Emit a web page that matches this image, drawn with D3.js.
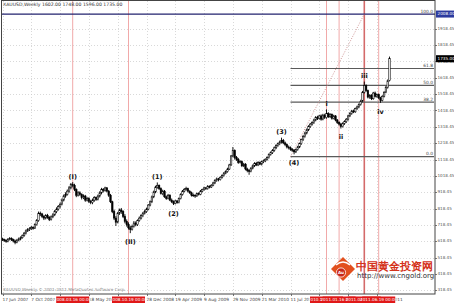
<!DOCTYPE html>
<html>
<head>
<meta charset="utf-8">
<script src="https://cdn.jsdelivr.net/npm/d3@7"></script>
<style>
  html, body { margin: 0; padding: 0; background: #fff; }
  svg { display: block; }
  text { font-family: "DejaVu Sans", sans-serif; }
</style>
</head>
<body>
<script>
var width = 454, height = 304;
var plot = {left: 1, top: 1, right: 435, bottom: 294};

// weekly bars, first and last week (Sunday dates)
var firstWeek = "2007-06-17", lastWeek = "2011-07-31";

var opens = [632,628,622,618,630,635,628,620,612,625,
  632,640,652,668,682,690,695,702,698,720,
  745,790,785,770,760,775,765,752,768,780,
  800,815,830,845,870,895,905,925,945,965,
  960,935,900,915,905,885,895,870,880,862,
  855,870,885,875,895,915,935,930,945,925,
  900,860,800,760,735,790,810,800,770,740,
  720,700,690,710,730,720,745,760,775,790,
  800,815,840,860,890,920,950,960,940,910,
  925,890,880,900,870,860,850,865,855,880,
  905,925,935,940,925,915,900,900,895,910,
  905,925,935,945,940,955,950,960,975,990,
  1000,995,1010,1020,1035,1045,1060,1085,1140,1175,
  1130,1120,1100,1105,1080,1090,1060,1050,1045,1065,
  1080,1095,1085,1100,1090,1105,1110,1120,1130,1150,
  1160,1175,1190,1205,1215,1225,1235,1220,1210,1195,
  1190,1180,1175,1165,1180,1195,1215,1240,1260,1280,
  1300,1320,1335,1345,1360,1375,1370,1385,1365,1390,
  1375,1400,1380,1395,1370,1385,1360,1345,1335,1320,
  1340,1350,1365,1385,1400,1415,1410,1430,1440,1455,
  1475,1530,1570,1540,1500,1510,1490,1525,1505,1515,
  1495,1480,1505,1530,1560,1602];

var highs = [640,634,630,638,644,642,634,628,633,641,
  648,660,675,690,699,704,712,710,728,754,
  800,800,792,778,784,786,772,776,790,810,
  826,840,855,880,904,918,935,956,975,980,
  970,942,925,924,912,905,902,890,888,872,
  880,894,892,904,924,945,944,952,950,932,
  908,866,812,772,798,818,822,808,784,752,
  734,712,720,742,740,752,770,784,798,812,
  824,846,868,898,928,958,978,966,948,934,
  932,898,908,906,880,868,872,870,886,912,
  932,944,952,946,930,922,910,906,916,918,
  932,940,952,950,962,960,968,982,998,1008,
  1006,1016,1028,1042,1052,1068,1092,1146,1195,1180,
  1140,1128,1115,1112,1098,1096,1068,1060,1072,1088,
  1102,1104,1108,1106,1112,1118,1126,1138,1156,1168,
  1182,1198,1212,1222,1234,1252,1244,1228,1216,1204,
  1198,1188,1182,1186,1202,1222,1246,1268,1288,1308,
  1328,1342,1352,1368,1384,1386,1392,1394,1398,1398,
  1425,1408,1402,1400,1392,1390,1366,1352,1342,1346,
  1358,1372,1392,1408,1422,1424,1436,1448,1462,1484,
  1538,1595,1578,1546,1518,1518,1532,1534,1522,1522,
  1502,1512,1536,1568,1608,1748];

var lows = [620,615,609,612,623,620,611,600,606,618,
  624,634,646,660,675,681,687,689,694,714,
  738,772,760,748,752,756,742,745,760,772,
  790,806,820,838,862,885,898,915,936,948,
  925,888,892,896,874,876,860,862,852,845,
  845,860,866,868,886,905,918,922,918,890,
  852,790,748,712,728,780,786,760,728,708,
  690,668,684,702,710,712,738,752,766,782,
  792,808,832,852,882,912,940,932,904,900,
  884,872,874,864,852,840,844,848,850,874,
  898,918,928,918,908,892,890,884,890,898,
  900,918,928,932,934,942,944,955,968,982,
  985,990,1002,1014,1028,1038,1054,1080,1132,1118,
  1110,1092,1094,1072,1072,1052,1040,1025,1040,1058,
  1072,1078,1078,1084,1082,1096,1102,1112,1124,1142,
  1152,1166,1182,1196,1206,1216,1212,1200,1186,1180,
  1172,1166,1150,1158,1172,1188,1208,1232,1252,1272,
  1292,1312,1326,1336,1352,1360,1362,1356,1358,1366,
  1368,1372,1372,1362,1364,1352,1336,1326,1308,1314,
  1330,1342,1356,1378,1392,1402,1404,1422,1432,1448,
  1468,1522,1532,1492,1490,1482,1484,1498,1496,1488,
  1465,1474,1498,1524,1552,1596];

var closes = [628,622,618,630,635,628,620,612,625,632,
  640,652,668,682,690,695,702,698,720,745,
  790,785,770,760,775,765,752,768,780,800,
  815,830,845,870,895,905,925,945,965,960,
  935,900,915,905,885,895,870,880,862,855,
  870,885,875,895,915,935,930,945,925,900,
  860,800,760,735,790,810,800,770,740,720,
  700,690,710,730,720,745,760,775,790,800,
  815,840,860,890,920,950,960,940,910,925,
  890,880,900,870,860,850,865,855,880,905,
  925,935,940,925,915,900,900,895,910,905,
  925,935,945,940,955,950,960,975,990,1000,
  995,1010,1020,1035,1045,1060,1085,1140,1175,1130,
  1120,1100,1105,1080,1090,1060,1050,1045,1065,1080,
  1095,1085,1100,1090,1105,1110,1120,1130,1150,1160,
  1175,1190,1205,1215,1225,1235,1220,1210,1195,1190,
  1180,1175,1165,1180,1195,1215,1240,1260,1280,1300,
  1320,1335,1345,1360,1375,1370,1385,1365,1390,1375,
  1400,1380,1395,1370,1385,1360,1345,1335,1320,1340,
  1350,1365,1385,1400,1415,1410,1430,1440,1455,1475,
  1530,1570,1540,1500,1510,1490,1525,1505,1515,1495,
  1480,1505,1530,1560,1600,1735];

var priceTicks = [318.45,418.45,518.45,618.45,718.45,818.45,918.45,1018.45,1118.45,
  1218.45,1318.45,1418.45,1518.45,1618.45,1718.45,1818.45,1918.45];
var dateTicks = ["2007-06-17","2007-10-07","2008-01-27","2008-05-18","2008-09-07",
  "2008-12-28","2009-04-19","2009-08-09","2009-11-29","2010-03-21","2010-07-11",
  "2010-10-31","2011-02-20","2011-06-12"];

// vertical lines on wave points
var lineDates = ["2008-03-16","2008-10-19","2010-11-28","2011-01-16","2011-04-24","2011-06-19"];

// fibonacci levels
var fibStart = "2010-07-11", fibLow = 1136, fibHigh = 2008;
var fibLevels = [0, 38.2, 50, 61.8];
var trendEnd = "2011-04-24";

// wave count
var waveText = ["(I)","(II)","(1)","(2)","(3)","(4)","i","ii","iii","iv"];
var waveBar  = [39, 71, 86, 95, 155, 162, 180, 188, 201, 210];
var waveSide = ["up","down","up","down","up","down","up","down","up","down"];

var parse = d3.utcParse("%Y-%m-%d");
var weeks = d3.utcWeek.range(parse(firstWeek), d3.utcDay.offset(parse(lastWeek), 1));
var bars = weeks.map(function(d, i) {
  return {date: d, o: opens[i], h: highs[i], l: lows[i], c: closes[i]};
});

var x = d3.scaleUtc()
  .domain([parse(firstWeek), parse(lastWeek)])
  .range([2.5, 389.5]);
var y = d3.scaleLinear()
  .domain([318.45, 1918.45])
  .range([290.3, 28.7]);

var svg = d3.select("body").append("svg")
  .attr("width", width)
  .attr("height", height);

svg.append("rect").attr("width", width).attr("height", height).attr("fill", "#fff");

svg.append("clipPath").attr("id", "clip")
  .append("rect")
  .attr("x", plot.left).attr("y", plot.top)
  .attr("width", plot.right - plot.left).attr("height", plot.bottom - plot.top);

var g = svg.append("g").attr("clip-path", "url(#clip)");

// grid
g.selectAll("line.hgrid").data(priceTicks).enter().append("line")
  .attr("x1", plot.left).attr("x2", plot.right)
  .attr("y1", function(d) { return Math.round(y(d)) + 0.5; })
  .attr("y2", function(d) { return Math.round(y(d)) + 0.5; })
  .attr("stroke", "#c8c8c8").attr("stroke-width", 0.7)
  .attr("stroke-dasharray", "1,2");
g.selectAll("line.vgrid").data(dateTicks).enter().append("line")
  .attr("x1", function(d) { return Math.round(x(parse(d))) + 0.5; })
  .attr("x2", function(d) { return Math.round(x(parse(d))) + 0.5; })
  .attr("y1", plot.top).attr("y2", plot.bottom)
  .attr("stroke", "#c8c8c8").attr("stroke-width", 0.7)
  .attr("stroke-dasharray", "1,2");

// vertical marker lines
g.selectAll("line.vmark").data(lineDates).enter().append("line")
  .attr("x1", function(d) { return x(parse(d)); })
  .attr("x2", function(d) { return x(parse(d)); })
  .attr("y1", plot.top).attr("y2", plot.bottom)
  .attr("stroke", function(d, i) { return i == 4 ? "#d46a6a" : "#ef9f9f"; })
  .attr("stroke-width", function(d, i) { return i == 4 ? 1.6 : 0.9; });

// 100% line across whole chart
g.append("line")
  .attr("x1", plot.left).attr("x2", plot.right)
  .attr("y1", y(fibHigh)).attr("y2", y(fibHigh))
  .attr("stroke", "#22226e").attr("stroke-width", 1.2);

// fib levels
var fibX = x(parse(fibStart));
fibLevels.forEach(function(lv) {
  var p = fibLow + (fibHigh - fibLow) * lv / 100;
  g.append("line")
    .attr("x1", fibX).attr("x2", plot.right - 1)
    .attr("y1", y(p)).attr("y2", y(p))
    .attr("stroke", "#5a5a5a").attr("stroke-width", 1.1);
});
fibLevels.concat([100]).forEach(function(lv) {
  var p = fibLow + (fibHigh - fibLow) * lv / 100;
  g.append("text")
    .attr("x", plot.right - 2).attr("y", y(p) - 1.5)
    .attr("text-anchor", "end")
    .attr("font-size", 4.4).attr("fill", "#444")
    .text(lv.toFixed(1));
});

// dotted trend line
g.append("line")
  .attr("x1", fibX).attr("y1", y(fibLow))
  .attr("x2", x(parse(trendEnd))).attr("y2", y(fibHigh))
  .attr("stroke", "#c98a8a").attr("stroke-width", 0.9)
  .attr("stroke-dasharray", "1,1.5");

// candles
g.selectAll("line.wick").data(bars).enter().append("line")
  .attr("x1", function(d) { return x(d.date); })
  .attr("x2", function(d) { return x(d.date); })
  .attr("y1", function(d) { return y(d.h); })
  .attr("y2", function(d) { return y(d.l); })
  .attr("stroke", "#000").attr("stroke-width", 0.9);
g.selectAll("rect.body").data(bars).enter().append("rect")
  .attr("x", function(d) { return x(d.date) - 0.75; })
  .attr("width", 1.5)
  .attr("y", function(d) { return y(Math.max(d.o, d.c)); })
  .attr("height", function(d) { return Math.max(0.6, Math.abs(y(d.o) - y(d.c))); })
  .attr("fill", function(d) { return d.c >= d.o ? "#eee" : "#000"; })
  .attr("stroke", "#000").attr("stroke-width", 0.55);

// wave labels
g.selectAll("text.wave").data(waveText).enter().append("text")
  .attr("x", function(d, i) { return x(weeks[waveBar[i]]); })
  .attr("y", function(d, i) {
    var b = bars[waveBar[i]];
    return waveSide[i] == "up" ? y(b.h) - 5 : y(b.l) + 9;
  })
  .attr("text-anchor", "middle").attr("dominant-baseline", "middle")
  .attr("font-size", 6.5).attr("font-weight", "bold").attr("fill", "#111")
  .text(function(d) { return d; });

// title and copyright
var last = bars[bars.length - 1];
g.append("text").attr("x", 3).attr("y", 6)
  .attr("font-size", 4.6).attr("fill", "#333")
  .text("XAUUSD,Weekly  " + [last.o, last.h, last.l, last.c].map(function(v) { return v.toFixed(2); }).join(" "));
g.append("text").attr("x", 3).attr("y", 291)
  .attr("font-size", 4.2).attr("fill", "#888")
  .text("XAUUSD,Weekly  \u00a9 2001-2011 MetaQuotes Software Corp.");

// frame
svg.append("rect")
  .attr("x", plot.left + 0.5).attr("y", plot.top - 0.5)
  .attr("width", plot.right - plot.left - 0.5).attr("height", plot.bottom - plot.top + 0.5)
  .attr("fill", "none").attr("stroke", "#444").attr("stroke-width", 1);

// price axis
var ax = svg.append("g");
ax.selectAll("line").data(priceTicks).enter().append("line")
  .attr("x1", plot.right).attr("x2", plot.right + 2)
  .attr("y1", function(d) { return Math.round(y(d)) + 0.5; })
  .attr("y2", function(d) { return Math.round(y(d)) + 0.5; })
  .attr("stroke", "#555").attr("stroke-width", 0.8);
ax.selectAll("text").data(priceTicks).enter().append("text")
  .attr("x", plot.right + 2.5).attr("y", function(d) { return y(d); })
  .attr("dominant-baseline", "middle")
  .attr("font-size", 4.1).attr("fill", "#555")
  .text(function(d) { return d.toFixed(2); });

// price boxes
function priceBox(p, fill) {
  ax.append("rect")
    .attr("x", plot.right + 1).attr("y", y(p) - 3.5)
    .attr("width", width - plot.right - 1).attr("height", 7)
    .attr("fill", fill);
  ax.append("text")
    .attr("x", plot.right + 2.5).attr("y", y(p))
    .attr("dominant-baseline", "middle")
    .attr("font-size", 4.2).attr("fill", "#fff")
    .text(p.toFixed(2));
}
priceBox(fibHigh, "#2c3a9e");
priceBox(last.c, "#000");

// time axis
var tx = svg.append("g");
tx.selectAll("line").data(dateTicks).enter().append("line")
  .attr("x1", function(d) { return Math.round(x(parse(d))) + 0.5; })
  .attr("x2", function(d) { return Math.round(x(parse(d))) + 0.5; })
  .attr("y1", plot.bottom).attr("y2", plot.bottom + 2)
  .attr("stroke", "#555").attr("stroke-width", 0.8);
tx.selectAll("text").data(dateTicks).enter().append("text")
  .attr("x", function(d) { return x(parse(d)); })
  .attr("y", 299.5)
  .attr("dominant-baseline", "middle")
  .attr("font-size", 4.3).attr("fill", "#444")
  .text(function(d) { return d3.utcFormat("%-d %b %Y")(parse(d)); });

// red date boxes for marker lines
var fmtBox = d3.utcFormat("%Y.%m.%d 00:00");
lineDates.forEach(function(d) {
  var cx = x(parse(d));
  tx.append("rect")
    .attr("x", cx - 16.5).attr("y", 296.5)
    .attr("width", 33).attr("height", 6.5)
    .attr("fill", "#e01818");
  tx.append("text")
    .attr("x", cx).attr("y", 299.9)
    .attr("text-anchor", "middle").attr("dominant-baseline", "middle")
    .attr("font-size", 4.2).attr("fill", "#fff")
    .text(fmtBox(parse(d)));
});

// watermark
var wm = svg.append("g");
wm.append("path")
  .attr("d", "M343,257 L355,269 L343,281 L331,269 Z")
  .attr("fill", "#e2501e");
wm.append("path")
  .attr("d", "M336,265 Q343,259 350,265")
  .attr("fill", "none").attr("stroke", "#fff").attr("stroke-width", 1.6);
wm.append("circle").attr("cx", 341).attr("cy", 272.5).attr("r", 4.6)
  .attr("fill", "#c8281a").attr("stroke", "#fff").attr("stroke-width", 0.8);
wm.append("text").attr("x", 341).attr("y", 273)
  .attr("text-anchor", "middle").attr("dominant-baseline", "middle")
  .attr("font-size", 4.2).attr("font-weight", "bold").attr("fill", "#fff")
  .text("Au");
wm.append("text").attr("x", 356).attr("y", 266.5)
  .attr("dominant-baseline", "middle")
  .attr("font-family", "Noto Sans CJK SC").attr("font-weight", "bold")
  .attr("font-size", 10.8).attr("fill", "#d4321a")
  .text("中国黄金投资网");
wm.append("text").attr("x", 357).attr("y", 276.5)
  .attr("dominant-baseline", "middle")
  .attr("font-size", 7).attr("fill", "#333")
  .text("http://www.cngold.org");
</script>
</body>
</html>
